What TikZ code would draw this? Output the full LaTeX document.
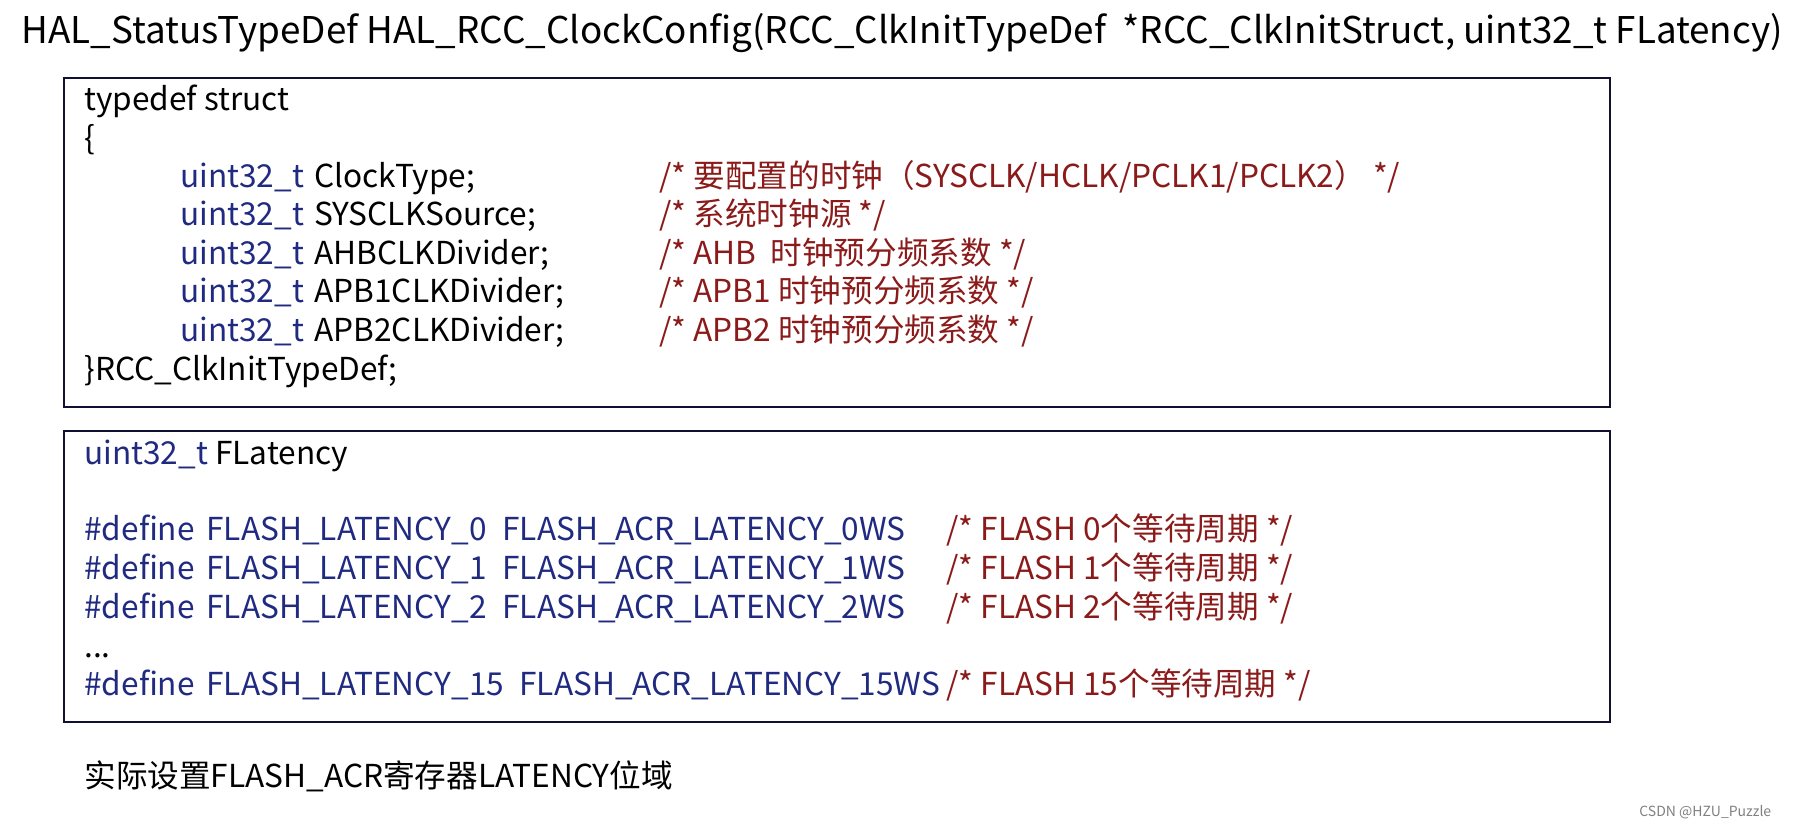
\documentclass[tikz,border=0pt]{standalone}
\usepackage{fontspec}
\setmainfont{Noto Sans CJK SC}
\begin{document}
\definecolor{kw}{HTML}{1F2A80}
\definecolor{cm}{HTML}{8B1A1A}
\definecolor{bx}{HTML}{101030}
\begin{tikzpicture}[x=0.5pt,y=-0.5pt,
  t/.style={anchor=west,inner sep=0pt,text height=0.8em,text depth=0.25em,font=\fontsize{15.8}{17}\selectfont},
  k/.style={t,text=kw},
  c/.style={t,text=cm},
  box/.style={draw=bx,line width=1.2pt}]
\useasboundingbox (0,0) rectangle (1796,829);
\node[anchor=west,inner sep=0pt,font=\fontsize{18.4}{20}\selectfont] (title) at (21,33) {HAL\_StatusTypeDef HAL\_RCC\_ClockConfig(RCC\_ClkInitTypeDef~~*RCC\_ClkInitStruct, uint32\_t FLatency)};
\draw[box] (64,78) rectangle (1610,407);
\draw[box] (64,431) rectangle (1610,722);
% struct
\node[t] (a0) at (84,105) {typedef struct};
\node[t] (a1) at (84,144) {\{};
\node[k] (k1) at (180,182) {uint32\_t};
\node[k] (k2) at (180,220) {uint32\_t};
\node[k] (k3) at (180,259) {uint32\_t};
\node[k] (k4) at (180,297) {uint32\_t};
\node[k] (k5) at (180,336) {uint32\_t};
\node[t] (m1) at (314,182) {ClockType;};
\node[t] (m2) at (314,220) {SYSCLKSource;};
\node[t] (m3) at (314,259) {AHBCLKDivider;};
\node[t] (m4) at (314,297) {APB1CLKDivider;};
\node[t] (m5) at (314,336) {APB2CLKDivider;};
\node[c] (c1) at (659,182) {/* 要配置的时钟（SYSCLK/HCLK/PCLK1/PCLK2） */};
\node[c] (c2) at (659,220) {/* 系统时钟源 */};
\node[c] (c3) at (659,259) {/* AHB~ 时钟预分频系数 */};
\node[c] (c4) at (659,297) {/* APB1 时钟预分频系数 */};
\node[c] (c5) at (659,336) {/* APB2 时钟预分频系数 */};
\node[t] (a2) at (84,375) {\}RCC\_ClkInitTypeDef;};
% latency
\node[t] (f0) at (84,459) {\textcolor{kw}{uint32\_t} FLatency};
\node[k] (d0) at (84,535) {\#define};
\node[k] (d1) at (84,574) {\#define};
\node[k] (d2) at (84,613) {\#define};
\node[t] (dd) at (84,652) {...};
\node[k] (d3) at (84,690) {\#define};
\node[k] (l0) at (206,535) {FLASH\_LATENCY\_0};
\node[k] (l1) at (206,574) {FLASH\_LATENCY\_1};
\node[k] (l2) at (206,613) {FLASH\_LATENCY\_2};
\node[k] (l3) at (206,690) {FLASH\_LATENCY\_15};
\node[k] (e0) at (502,535) {FLASH\_ACR\_LATENCY\_0WS};
\node[k] (e1) at (502,574) {FLASH\_ACR\_LATENCY\_1WS};
\node[k] (e2) at (502,613) {FLASH\_ACR\_LATENCY\_2WS};
\node[k] (e3) at (519,690) {FLASH\_ACR\_LATENCY\_15WS};
\node[c] (g0) at (946,535) {/* FLASH 0个等待周期 */};
\node[c] (g1) at (946,574) {/* FLASH 1个等待周期 */};
\node[c] (g2) at (946,613) {/* FLASH 2个等待周期 */};
\node[c] (g3) at (946,690) {/* FLASH 15个等待周期 */};
\node[t] (bot) at (84,782) {实际设置FLASH\_ACR寄存器LATENCY位域};
\node[anchor=west,inner sep=0pt,text=gray,font=\fontsize{7}{8}\selectfont] (wm) at (1639,812) {CSDN @HZU\_Puzzle};
\end{tikzpicture}
\end{document}
